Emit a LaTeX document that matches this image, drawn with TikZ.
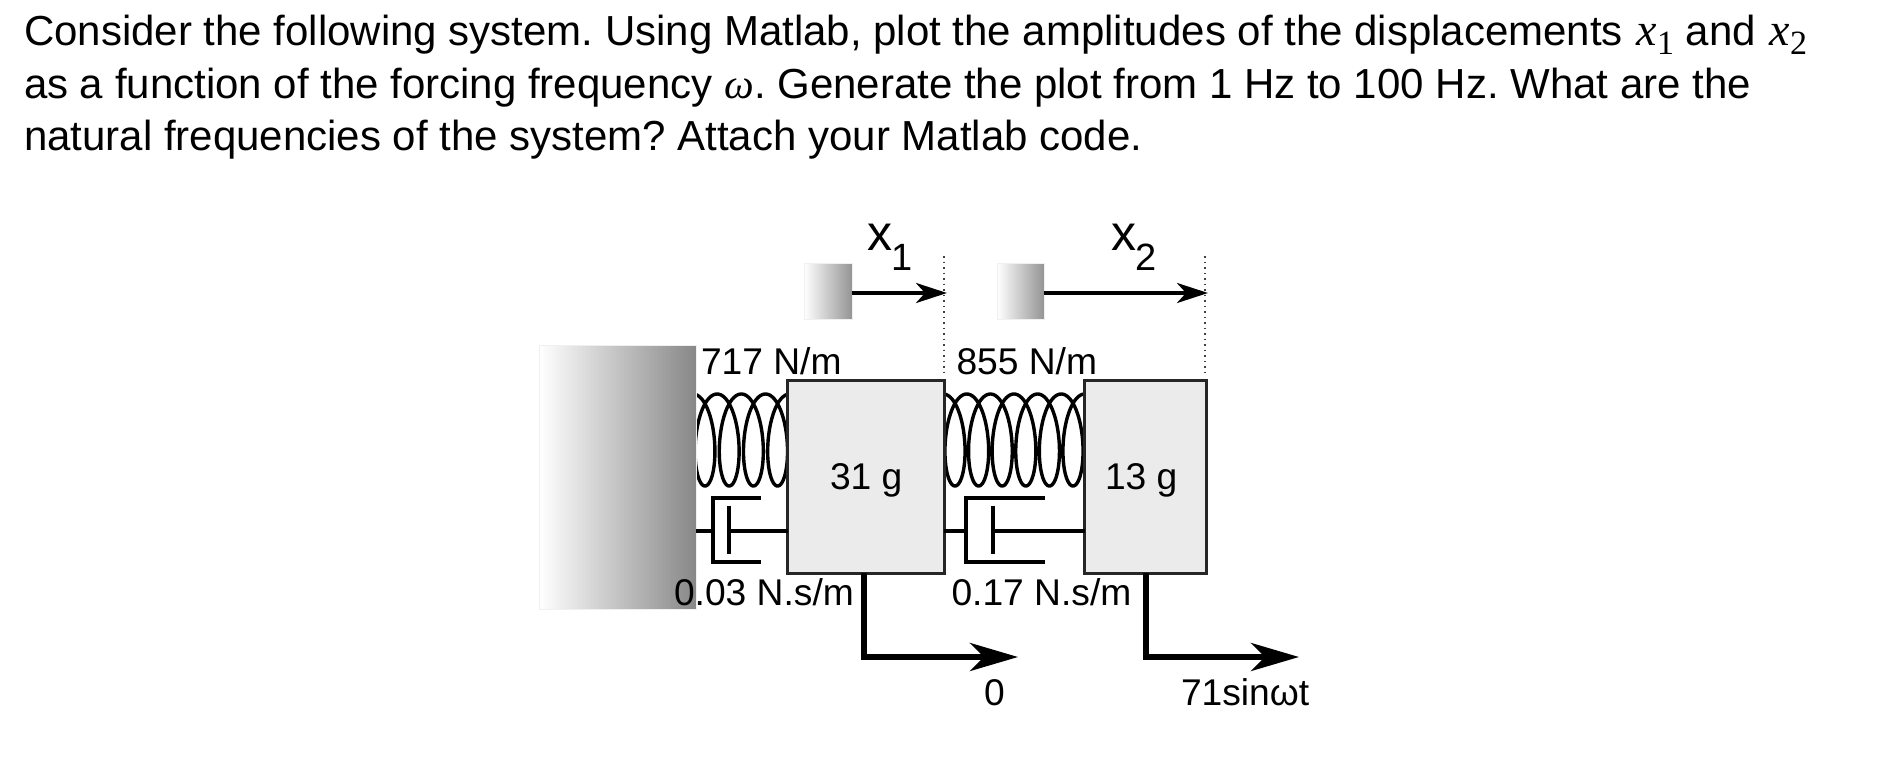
\documentclass[tikz,border=0pt]{standalone}
\usepackage{fontspec}
\setmainfont{Liberation Sans}
\newfontfamily\mathlike{Liberation Serif}
\usetikzlibrary{arrows.meta}
\newcommand{\headsize}{\fontsize{42}{48}\selectfont}
\newcommand{\lblsize}{\fontsize{37.2}{42}\selectfont}
\newcommand{\mvar}[1]{{\mathlike\itshape #1}}
\newcommand{\msub}[2]{\hspace{2pt}{\mathlike\itshape\fontsize{46}{48}\selectfont #1}\raisebox{-0.2em}{\mathlike\fontsize{34}{36}\selectfont #2}}
\tikzset{
  txt/.style={anchor=base west,inner sep=0pt,outer sep=0pt,font=\lblsize},
  head/.style={anchor=base west,inner sep=0pt,outer sep=0pt,font=\headsize},
  mass/.style={draw=black!85,line width=3pt,fill=black!8,inner sep=0pt,outer sep=0pt},
  block/.style={inner sep=0pt,outer sep=0pt,draw=black!6,line width=0.8pt,shade,left color=white,right color=black!42,minimum height=56pt},
  wallblock/.style={inner sep=0pt,outer sep=0pt,draw=black!6,line width=0.8pt,shade,left color=white,right color=black!47,minimum width=157pt,minimum height=264pt},
  coil/.style={line width=3.4pt,black},
  dmp/.style={line width=3.4pt,black},
  disp/.style={line width=3.6pt,-{Stealth[length=31pt,width=20pt,inset=9pt]}},
  force/.style={line width=6pt,miter limit=10,-{Stealth[length=48pt,width=28pt,inset=14pt]}},
  guide/.style={line width=1.8pt,black!75,dash pattern=on 1.8pt off 3.7pt}
}
\begin{document}
\begin{tikzpicture}[x=1pt,y=-1pt]
\useasboundingbox (0,0) rectangle (1890,760);
% header
\node[head] (l1) at (24,46) {\frenchspacing Consider the following system. Using Matlab, plot the amplitudes of the displacements \msub{x}{1} and \msub{x}{2}};
\node[head] (l2) at (24,98) {\frenchspacing as a function of the forcing frequency \mvar{ω}. Generate the plot from 1 Hz to 100 Hz. What are the};
\node[head] (l3) at (24,150) {\frenchspacing natural frequencies of the system? Attach your Matlab code.};
% springs (drawn first: the wall and the masses cover their ends)
\draw[coil] plot[domain=-3.1416:22,samples=320,smooth] ({705+24.2*\x/6.2832-15.5*sin(\x r)},{440+46*cos(\x r)});
\draw[coil] plot[domain=-3.1416:35,samples=500,smooth] ({955+23.6*\x/6.2832-15.5*sin(\x r)},{440+46*cos(\x r)});
% wall and masses
\node[wallblock] (wall) at (617.5,477) {};
\node[mass,minimum width=156.5pt,minimum height=192.5pt] (m1) at (866,477) {};
\node[mass,minimum width=121.5pt,minimum height=192.5pt] (m2) at (1145.5,477) {};
% displacement references
\node[block,minimum width=48pt] (b1) at (828,291) {};
\node[block,minimum width=47pt] (b2) at (1020.5,291) {};
\coordinate (d1t) at (944,256); \coordinate (d1b) at (944,372);
\coordinate (d2t) at (1205,256); \coordinate (d2b) at (1205,372);
\draw[guide] (d1t) -- (d1b);
\draw[guide] (d2t) -- (d2b);
\coordinate (a1) at (947,293); \coordinate (a2) at (1208,293);
\draw[disp] (b1.east |- a1) -- (a1);
\draw[disp] (b2.east |- a2) -- (a2);
% dampers
\coordinate (c1) at (713,531); \coordinate (p1) at (729,531);
\coordinate (c2) at (966,531); \coordinate (p2) at (993,531);
\draw[dmp] (wall.east |- c1) -- (c1);
\draw[dmp] (761,498) -- (713,498) -- (713,562) -- (761,562);
\draw[dmp] (729,506) -- (729,554);
\draw[dmp] (p1) -- (m1.west |- p1);
\draw[dmp] (m1.east |- c2) -- (c2);
\draw[dmp] (1045,498) -- (966,498) -- (966,562) -- (1045,562);
\draw[dmp] (993,506) -- (993,554);
\draw[dmp] (p2) -- (m2.west |- p2);
% forces
\coordinate (f1) at (864,657); \coordinate (f1e) at (1018,657);
\coordinate (f2) at (1146,657); \coordinate (f2e) at (1299,657);
\draw[force] (m1.south -| f1) -- (f1) -- (f1e);
\draw[force] (m2.south -| f2) -- (f2) -- (f2e);
% labels
\node[txt,font=\fontsize{50}{54}\selectfont] (x1) at (867,250) {x};
\node[txt,font=\fontsize{38}{42}\selectfont] (x1s) at (891,270) {1};
\node[txt,font=\fontsize{50}{54}\selectfont] (x2) at (1111,250) {x};
\node[txt,font=\fontsize{38}{42}\selectfont] (x2s) at (1135,270) {2};
\node[txt] (k1) at (701,374) {717 N/m};
\node[txt] (k2) at (956.5,374) {855 N/m};
\node[txt] (mm1) at (830,489) {31 g};
\node[txt] (mm2) at (1105,489) {13 g};
\node[txt] (c1l) at (674,605) {0.03 N.s/m};
\node[txt] (c2l) at (951.5,605) {0.17 N.s/m};
\node[txt] (F1) at (984,705) {0};
\node[txt] (F2) at (1181,705) {71sinωt};
\end{tikzpicture}
\end{document}
